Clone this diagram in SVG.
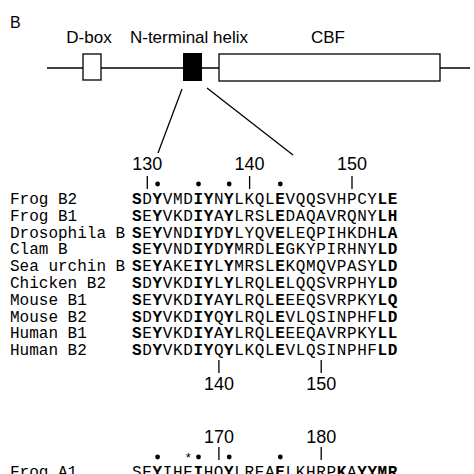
<svg xmlns="http://www.w3.org/2000/svg" width="474" height="474" viewBox="0 0 474 474">
<style>
.ln{stroke:#000;stroke-width:1.3;fill:none}
.box{fill:#fff;stroke:#000;stroke-width:1.3}
.lbl{font-family:"Liberation Sans",Arial,sans-serif;font-size:17px;fill:#000}
.num{font-family:"Liberation Sans",Arial,sans-serif;font-size:18px;fill:#000;text-anchor:middle}
.nm{font-family:"Liberation Mono","Courier New",monospace;font-size:16px;fill:#000}
.sq{font-family:"Liberation Mono","Courier New",monospace;font-size:16px;letter-spacing:0.63px;fill:#000}
.b{font-weight:bold}
.tk{stroke:#000;stroke-width:1.3}
.dot{fill:#000}
</style>
<rect width="474" height="474" fill="#fff"/>
<text class="lbl" x="10" y="28" style="font-size:16px">B</text>

<g id="connectors">
<line class="ln" x1="47" y1="68" x2="470" y2="68"/>
<line class="ln" x1="182" y1="89" x2="158" y2="153"/>
<line class="ln" x1="207" y1="88" x2="293" y2="155"/>
</g>

<g id="dbox">
<rect class="box" x="83" y="54" width="18" height="26"/>
<text class="lbl" x="89" y="43" text-anchor="middle">D-box</text>
</g>
<g id="helix">
<rect x="183" y="53" width="19" height="28" fill="#000"/>
<text class="lbl" x="189" y="43" text-anchor="middle">N-terminal helix</text>
</g>
<g id="cbf">
<rect class="box" x="219" y="54" width="221" height="27"/>
<text class="lbl" x="328" y="43" text-anchor="middle">CBF</text>
</g>

<g id="top-numbering">
<text class="num" x="147.3" y="170">130</text>
<text class="num" x="249.6" y="170">140</text>
<text class="num" x="352" y="170">150</text>
<line class="tk" x1="147.3" y1="176" x2="147.3" y2="189"/>
<line class="tk" x1="249.6" y1="176" x2="249.6" y2="189"/>
<line class="tk" x1="352" y1="176" x2="352" y2="189"/>
<circle class="dot" cx="157.6" cy="184" r="2.4"/>
<circle class="dot" cx="198.5" cy="184" r="2.4"/>
<circle class="dot" cx="229.2" cy="184" r="2.4"/>
<circle class="dot" cx="280.3" cy="184" r="2.4"/>
</g>

<g id="alignment-b">
<text class="nm" x="10" y="204">Frog B2</text>
<text class="sq" x="132" y="204"><tspan class="b">S</tspan>D<tspan class="b">Y</tspan>VMD<tspan class="b">IY</tspan>N<tspan class="b">Y</tspan>LKQL<tspan class="b">E</tspan>VQQSVHPCY<tspan class="b">LE</tspan></text>
<text class="nm" x="10" y="220.8">Frog B1</text>
<text class="sq" x="132" y="220.8"><tspan class="b">S</tspan>E<tspan class="b">Y</tspan>VKD<tspan class="b">IY</tspan>A<tspan class="b">Y</tspan>LRSL<tspan class="b">E</tspan>DAQAVRQNY<tspan class="b">LH</tspan></text>
<text class="nm" x="10" y="237.6">Drosophila B</text>
<text class="sq" x="132" y="237.6"><tspan class="b">S</tspan>E<tspan class="b">Y</tspan>VND<tspan class="b">IY</tspan>D<tspan class="b">Y</tspan>LYQV<tspan class="b">E</tspan>LEQPIHKDH<tspan class="b">LA</tspan></text>
<text class="nm" x="10" y="254.4">Clam B</text>
<text class="sq" x="132" y="254.4"><tspan class="b">S</tspan>E<tspan class="b">Y</tspan>VND<tspan class="b">IY</tspan>D<tspan class="b">Y</tspan>MRDL<tspan class="b">E</tspan>GKYPIRHNY<tspan class="b">LD</tspan></text>
<text class="nm" x="10" y="271.2">Sea urchin B</text>
<text class="sq" x="132" y="271.2"><tspan class="b">S</tspan>E<tspan class="b">Y</tspan>AKE<tspan class="b">IY</tspan>L<tspan class="b">Y</tspan>MRSL<tspan class="b">E</tspan>KQMQVPASY<tspan class="b">LD</tspan></text>
<text class="nm" x="10" y="288">Chicken B2</text>
<text class="sq" x="132" y="288"><tspan class="b">S</tspan>D<tspan class="b">Y</tspan>VKD<tspan class="b">IY</tspan>L<tspan class="b">Y</tspan>LRQL<tspan class="b">E</tspan>LQQSVRPHY<tspan class="b">LD</tspan></text>
<text class="nm" x="10" y="304.8">Mouse B1</text>
<text class="sq" x="132" y="304.8"><tspan class="b">S</tspan>E<tspan class="b">Y</tspan>VKD<tspan class="b">IY</tspan>A<tspan class="b">Y</tspan>LRQL<tspan class="b">E</tspan>EEQSVRPKY<tspan class="b">LQ</tspan></text>
<text class="nm" x="10" y="321.6">Mouse B2</text>
<text class="sq" x="132" y="321.6"><tspan class="b">S</tspan>D<tspan class="b">Y</tspan>VKD<tspan class="b">IY</tspan>Q<tspan class="b">Y</tspan>LRQL<tspan class="b">E</tspan>VLQSINPHF<tspan class="b">LD</tspan></text>
<text class="nm" x="10" y="338.4">Human B1</text>
<text class="sq" x="132" y="338.4"><tspan class="b">S</tspan>E<tspan class="b">Y</tspan>VKD<tspan class="b">IY</tspan>A<tspan class="b">Y</tspan>LRQL<tspan class="b">E</tspan>EEQAVRPKY<tspan class="b">LL</tspan></text>
<text class="nm" x="10" y="355.2">Human B2</text>
<text class="sq" x="132" y="355.2"><tspan class="b">S</tspan>D<tspan class="b">Y</tspan>VKD<tspan class="b">IY</tspan>Q<tspan class="b">Y</tspan>LKQL<tspan class="b">E</tspan>VLQSINPHF<tspan class="b">LD</tspan></text>
</g>

<g id="mid-numbering">
<line class="tk" x1="218.9" y1="360" x2="218.9" y2="373"/>
<line class="tk" x1="321.2" y1="360" x2="321.2" y2="373"/>
<text class="num" x="218.9" y="390">140</text>
<text class="num" x="321.2" y="390">150</text>
</g>

<g id="bottom-numbering">
<text class="num" x="218.9" y="443">170</text>
<text class="num" x="321.2" y="443">180</text>
<line class="tk" x1="218.9" y1="447" x2="218.9" y2="460"/>
<line class="tk" x1="321.2" y1="447" x2="321.2" y2="460"/>
<circle class="dot" cx="157.6" cy="457" r="2.4"/>
<text class="lbl" x="188.2" y="462" text-anchor="middle" style="font-size:13px">*</text>
<circle class="dot" cx="198.5" cy="457" r="2.4"/>
<circle class="dot" cx="229.2" cy="457" r="2.4"/>
<circle class="dot" cx="280.3" cy="457" r="2.4"/>
</g>

<g id="alignment-a">
<text class="nm" x="10" y="477">Frog A1</text>
<text class="sq" x="132" y="477">SE<tspan class="b">Y</tspan>IHE<tspan class="b">I</tspan>HQ<tspan class="b">Y</tspan>LREA<tspan class="b">E</tspan>LKHRP<tspan class="b">K</tspan>A<tspan class="b">YYMR</tspan></text>
</g>
</svg>
